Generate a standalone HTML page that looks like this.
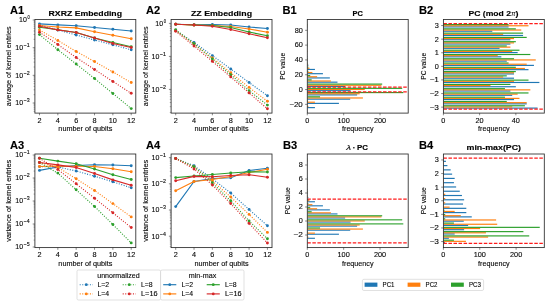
<!DOCTYPE html>
<html><head><meta charset="utf-8"><style>
html,body{margin:0;padding:0;background:#fff;}
svg{display:block;font-family:"Liberation Sans", sans-serif;filter:blur(0.3px);}
text{stroke:#222;stroke-width:0.12px;}
text[font-weight=bold]{stroke:#111;stroke-width:0.15px;}
</style></head><body>
<svg width="550" height="305" viewBox="0 0 550 305">
<rect width="550" height="305" fill="#fff"/>
<clipPath id="cA1"><rect x="34.9" y="19.5" width="100.9" height="93.6"/></clipPath>
<g clip-path="url(#cA1)">
<polyline points="39.49,25 57.83,30 76.18,35 94.52,40 112.87,44.8 131.21,49.8" fill="none" stroke="#1f77b4" stroke-width="1.15" stroke-dasharray="1.0 1.55" stroke-linejoin="round"/>
<circle cx="39.49" cy="25" r="1.45" fill="#1f77b4"/>
<circle cx="57.83" cy="30" r="1.45" fill="#1f77b4"/>
<circle cx="76.18" cy="35" r="1.45" fill="#1f77b4"/>
<circle cx="94.52" cy="40" r="1.45" fill="#1f77b4"/>
<circle cx="112.87" cy="44.8" r="1.45" fill="#1f77b4"/>
<circle cx="131.21" cy="49.8" r="1.45" fill="#1f77b4"/>
<polyline points="39.49,23.9 57.83,24.9 76.18,25.7 94.52,27.5 112.87,29.2 131.21,31" fill="none" stroke="#1f77b4" stroke-width="1.15" stroke-linejoin="round"/>
<circle cx="39.49" cy="23.9" r="1.45" fill="#1f77b4"/>
<circle cx="57.83" cy="24.9" r="1.45" fill="#1f77b4"/>
<circle cx="76.18" cy="25.7" r="1.45" fill="#1f77b4"/>
<circle cx="94.52" cy="27.5" r="1.45" fill="#1f77b4"/>
<circle cx="112.87" cy="29.2" r="1.45" fill="#1f77b4"/>
<circle cx="131.21" cy="31" r="1.45" fill="#1f77b4"/>
<polyline points="39.49,30 57.83,40.5 76.18,51.5 94.52,61.5 112.87,72 131.21,82.5" fill="none" stroke="#ff7f0e" stroke-width="1.15" stroke-dasharray="1.0 1.55" stroke-linejoin="round"/>
<circle cx="39.49" cy="30" r="1.45" fill="#ff7f0e"/>
<circle cx="57.83" cy="40.5" r="1.45" fill="#ff7f0e"/>
<circle cx="76.18" cy="51.5" r="1.45" fill="#ff7f0e"/>
<circle cx="94.52" cy="61.5" r="1.45" fill="#ff7f0e"/>
<circle cx="112.87" cy="72" r="1.45" fill="#ff7f0e"/>
<circle cx="131.21" cy="82.5" r="1.45" fill="#ff7f0e"/>
<polyline points="39.49,25.5 57.83,27 76.18,27.9 94.52,31.8 112.87,35.3 131.21,38.7" fill="none" stroke="#ff7f0e" stroke-width="1.15" stroke-linejoin="round"/>
<circle cx="39.49" cy="25.5" r="1.45" fill="#ff7f0e"/>
<circle cx="57.83" cy="27" r="1.45" fill="#ff7f0e"/>
<circle cx="76.18" cy="27.9" r="1.45" fill="#ff7f0e"/>
<circle cx="94.52" cy="31.8" r="1.45" fill="#ff7f0e"/>
<circle cx="112.87" cy="35.3" r="1.45" fill="#ff7f0e"/>
<circle cx="131.21" cy="38.7" r="1.45" fill="#ff7f0e"/>
<polyline points="39.49,34.6 57.83,49.7 76.18,64 94.52,78.5 112.87,93.5 131.21,108.6" fill="none" stroke="#2ca02c" stroke-width="1.15" stroke-dasharray="1.0 1.55" stroke-linejoin="round"/>
<circle cx="39.49" cy="34.6" r="1.45" fill="#2ca02c"/>
<circle cx="57.83" cy="49.7" r="1.45" fill="#2ca02c"/>
<circle cx="76.18" cy="64" r="1.45" fill="#2ca02c"/>
<circle cx="94.52" cy="78.5" r="1.45" fill="#2ca02c"/>
<circle cx="112.87" cy="93.5" r="1.45" fill="#2ca02c"/>
<circle cx="131.21" cy="108.6" r="1.45" fill="#2ca02c"/>
<polyline points="39.49,27.2 57.83,29.8 76.18,32.5 94.52,38 112.87,42.5 131.21,46.8" fill="none" stroke="#2ca02c" stroke-width="1.15" stroke-linejoin="round"/>
<circle cx="39.49" cy="27.2" r="1.45" fill="#2ca02c"/>
<circle cx="57.83" cy="29.8" r="1.45" fill="#2ca02c"/>
<circle cx="76.18" cy="32.5" r="1.45" fill="#2ca02c"/>
<circle cx="94.52" cy="38" r="1.45" fill="#2ca02c"/>
<circle cx="112.87" cy="42.5" r="1.45" fill="#2ca02c"/>
<circle cx="131.21" cy="46.8" r="1.45" fill="#2ca02c"/>
<polyline points="39.49,32.2 57.83,44.5 76.18,57.5 94.52,69.5 112.87,81.5 131.21,93.3" fill="none" stroke="#d62728" stroke-width="1.15" stroke-dasharray="1.0 1.55" stroke-linejoin="round"/>
<circle cx="39.49" cy="32.2" r="1.45" fill="#d62728"/>
<circle cx="57.83" cy="44.5" r="1.45" fill="#d62728"/>
<circle cx="76.18" cy="57.5" r="1.45" fill="#d62728"/>
<circle cx="94.52" cy="69.5" r="1.45" fill="#d62728"/>
<circle cx="112.87" cy="81.5" r="1.45" fill="#d62728"/>
<circle cx="131.21" cy="93.3" r="1.45" fill="#d62728"/>
<polyline points="39.49,26.2 57.83,29.9 76.18,32.5 94.52,38 112.87,43.5 131.21,47.5" fill="none" stroke="#d62728" stroke-width="1.15" stroke-linejoin="round"/>
<circle cx="39.49" cy="26.2" r="1.45" fill="#d62728"/>
<circle cx="57.83" cy="29.9" r="1.45" fill="#d62728"/>
<circle cx="76.18" cy="32.5" r="1.45" fill="#d62728"/>
<circle cx="94.52" cy="38" r="1.45" fill="#d62728"/>
<circle cx="112.87" cy="43.5" r="1.45" fill="#d62728"/>
<circle cx="131.21" cy="47.5" r="1.45" fill="#d62728"/>
</g>
<rect x="34.9" y="19.5" width="100.9" height="93.6" fill="none" stroke="#2a2a2a" stroke-width="0.85"/>
<line x1="39.49" y1="113.1" x2="39.49" y2="115.3" stroke="#2a2a2a" stroke-width="0.55" />
<text x="39.49" y="122.8" font-size="6.9" text-anchor="middle" textLength="4.07" lengthAdjust="spacingAndGlyphs">2</text>
<line x1="57.83" y1="113.1" x2="57.83" y2="115.3" stroke="#2a2a2a" stroke-width="0.55" />
<text x="57.83" y="122.8" font-size="6.9" text-anchor="middle" textLength="4.07" lengthAdjust="spacingAndGlyphs">4</text>
<line x1="76.18" y1="113.1" x2="76.18" y2="115.3" stroke="#2a2a2a" stroke-width="0.55" />
<text x="76.18" y="122.8" font-size="6.9" text-anchor="middle" textLength="4.07" lengthAdjust="spacingAndGlyphs">6</text>
<line x1="94.52" y1="113.1" x2="94.52" y2="115.3" stroke="#2a2a2a" stroke-width="0.55" />
<text x="94.52" y="122.8" font-size="6.9" text-anchor="middle" textLength="4.07" lengthAdjust="spacingAndGlyphs">8</text>
<line x1="112.87" y1="113.1" x2="112.87" y2="115.3" stroke="#2a2a2a" stroke-width="0.55" />
<text x="112.87" y="122.8" font-size="6.9" text-anchor="middle" textLength="8.14" lengthAdjust="spacingAndGlyphs">10</text>
<line x1="131.21" y1="113.1" x2="131.21" y2="115.3" stroke="#2a2a2a" stroke-width="0.55" />
<text x="131.21" y="122.8" font-size="6.9" text-anchor="middle" textLength="8.14" lengthAdjust="spacingAndGlyphs">12</text>
<line x1="33.6" y1="111.34" x2="34.9" y2="111.34" stroke="#2a2a2a" stroke-width="0.4" />
<line x1="33.6" y1="109.15" x2="34.9" y2="109.15" stroke="#2a2a2a" stroke-width="0.4" />
<line x1="33.6" y1="107.3" x2="34.9" y2="107.3" stroke="#2a2a2a" stroke-width="0.4" />
<line x1="33.6" y1="105.69" x2="34.9" y2="105.69" stroke="#2a2a2a" stroke-width="0.4" />
<line x1="33.6" y1="104.28" x2="34.9" y2="104.28" stroke="#2a2a2a" stroke-width="0.4" />
<line x1="33.6" y1="94.68" x2="34.9" y2="94.68" stroke="#2a2a2a" stroke-width="0.4" />
<line x1="33.6" y1="89.81" x2="34.9" y2="89.81" stroke="#2a2a2a" stroke-width="0.4" />
<line x1="33.6" y1="86.35" x2="34.9" y2="86.35" stroke="#2a2a2a" stroke-width="0.4" />
<line x1="33.6" y1="83.67" x2="34.9" y2="83.67" stroke="#2a2a2a" stroke-width="0.4" />
<line x1="33.6" y1="81.48" x2="34.9" y2="81.48" stroke="#2a2a2a" stroke-width="0.4" />
<line x1="33.6" y1="79.63" x2="34.9" y2="79.63" stroke="#2a2a2a" stroke-width="0.4" />
<line x1="33.6" y1="78.02" x2="34.9" y2="78.02" stroke="#2a2a2a" stroke-width="0.4" />
<line x1="33.6" y1="76.61" x2="34.9" y2="76.61" stroke="#2a2a2a" stroke-width="0.4" />
<line x1="33.6" y1="67.01" x2="34.9" y2="67.01" stroke="#2a2a2a" stroke-width="0.4" />
<line x1="33.6" y1="62.14" x2="34.9" y2="62.14" stroke="#2a2a2a" stroke-width="0.4" />
<line x1="33.6" y1="58.68" x2="34.9" y2="58.68" stroke="#2a2a2a" stroke-width="0.4" />
<line x1="33.6" y1="56" x2="34.9" y2="56" stroke="#2a2a2a" stroke-width="0.4" />
<line x1="33.6" y1="53.81" x2="34.9" y2="53.81" stroke="#2a2a2a" stroke-width="0.4" />
<line x1="33.6" y1="51.96" x2="34.9" y2="51.96" stroke="#2a2a2a" stroke-width="0.4" />
<line x1="33.6" y1="50.35" x2="34.9" y2="50.35" stroke="#2a2a2a" stroke-width="0.4" />
<line x1="33.6" y1="48.94" x2="34.9" y2="48.94" stroke="#2a2a2a" stroke-width="0.4" />
<line x1="33.6" y1="39.34" x2="34.9" y2="39.34" stroke="#2a2a2a" stroke-width="0.4" />
<line x1="33.6" y1="34.47" x2="34.9" y2="34.47" stroke="#2a2a2a" stroke-width="0.4" />
<line x1="33.6" y1="31.01" x2="34.9" y2="31.01" stroke="#2a2a2a" stroke-width="0.4" />
<line x1="33.6" y1="28.33" x2="34.9" y2="28.33" stroke="#2a2a2a" stroke-width="0.4" />
<line x1="33.6" y1="26.14" x2="34.9" y2="26.14" stroke="#2a2a2a" stroke-width="0.4" />
<line x1="33.6" y1="24.29" x2="34.9" y2="24.29" stroke="#2a2a2a" stroke-width="0.4" />
<line x1="33.6" y1="22.68" x2="34.9" y2="22.68" stroke="#2a2a2a" stroke-width="0.4" />
<line x1="33.6" y1="21.27" x2="34.9" y2="21.27" stroke="#2a2a2a" stroke-width="0.4" />
<line x1="32.7" y1="20" x2="34.9" y2="20" stroke="#2a2a2a" stroke-width="0.55" />
<text x="26.85" y="22.35" font-size="6.9" text-anchor="end" textLength="7.8" lengthAdjust="spacingAndGlyphs">10</text>
<text x="29.7" y="19.4" font-size="4.5" text-anchor="end" textLength="2.25" lengthAdjust="spacingAndGlyphs">0</text>
<line x1="32.7" y1="47.67" x2="34.9" y2="47.67" stroke="#2a2a2a" stroke-width="0.55" />
<text x="23.1" y="50.02" font-size="6.9" text-anchor="end" textLength="7.8" lengthAdjust="spacingAndGlyphs">10</text>
<text x="29.7" y="47.07" font-size="4.5" text-anchor="end" textLength="6" lengthAdjust="spacingAndGlyphs">&#8722;1</text>
<line x1="32.7" y1="75.34" x2="34.9" y2="75.34" stroke="#2a2a2a" stroke-width="0.55" />
<text x="23.1" y="77.69" font-size="6.9" text-anchor="end" textLength="7.8" lengthAdjust="spacingAndGlyphs">10</text>
<text x="29.7" y="74.74" font-size="4.5" text-anchor="end" textLength="6" lengthAdjust="spacingAndGlyphs">&#8722;2</text>
<line x1="32.7" y1="103.01" x2="34.9" y2="103.01" stroke="#2a2a2a" stroke-width="0.55" />
<text x="23.1" y="105.36" font-size="6.9" text-anchor="end" textLength="7.8" lengthAdjust="spacingAndGlyphs">10</text>
<text x="29.7" y="102.41" font-size="4.5" text-anchor="end" textLength="6" lengthAdjust="spacingAndGlyphs">&#8722;3</text>
<text x="85.35" y="131" font-size="6.9" text-anchor="middle" textLength="54" lengthAdjust="spacingAndGlyphs">number of qubits</text>
<clipPath id="cA2"><rect x="171.1" y="19.5" width="100.9" height="93.6"/></clipPath>
<g clip-path="url(#cA2)">
<polyline points="175.69,30.5 194.03,42.5 212.38,55.6 230.72,69 249.07,82.5 267.41,95.8" fill="none" stroke="#1f77b4" stroke-width="1.15" stroke-dasharray="1.0 1.55" stroke-linejoin="round"/>
<circle cx="175.69" cy="30.5" r="1.45" fill="#1f77b4"/>
<circle cx="194.03" cy="42.5" r="1.45" fill="#1f77b4"/>
<circle cx="212.38" cy="55.6" r="1.45" fill="#1f77b4"/>
<circle cx="230.72" cy="69" r="1.45" fill="#1f77b4"/>
<circle cx="249.07" cy="82.5" r="1.45" fill="#1f77b4"/>
<circle cx="267.41" cy="95.8" r="1.45" fill="#1f77b4"/>
<polyline points="175.69,24.3 194.03,24.8 212.38,24.5 230.72,25 249.07,27 267.41,28.5" fill="none" stroke="#1f77b4" stroke-width="1.15" stroke-linejoin="round"/>
<circle cx="175.69" cy="24.3" r="1.45" fill="#1f77b4"/>
<circle cx="194.03" cy="24.8" r="1.45" fill="#1f77b4"/>
<circle cx="212.38" cy="24.5" r="1.45" fill="#1f77b4"/>
<circle cx="230.72" cy="25" r="1.45" fill="#1f77b4"/>
<circle cx="249.07" cy="27" r="1.45" fill="#1f77b4"/>
<circle cx="267.41" cy="28.5" r="1.45" fill="#1f77b4"/>
<polyline points="175.69,30.5 194.03,44 212.38,58 230.72,72.7 249.07,87.4 267.41,101.3" fill="none" stroke="#ff7f0e" stroke-width="1.15" stroke-dasharray="1.0 1.55" stroke-linejoin="round"/>
<circle cx="175.69" cy="30.5" r="1.45" fill="#ff7f0e"/>
<circle cx="194.03" cy="44" r="1.45" fill="#ff7f0e"/>
<circle cx="212.38" cy="58" r="1.45" fill="#ff7f0e"/>
<circle cx="230.72" cy="72.7" r="1.45" fill="#ff7f0e"/>
<circle cx="249.07" cy="87.4" r="1.45" fill="#ff7f0e"/>
<circle cx="267.41" cy="101.3" r="1.45" fill="#ff7f0e"/>
<polyline points="175.69,24.3 194.03,25 212.38,25.5 230.72,26.5 249.07,29 267.41,32.2" fill="none" stroke="#ff7f0e" stroke-width="1.15" stroke-linejoin="round"/>
<circle cx="175.69" cy="24.3" r="1.45" fill="#ff7f0e"/>
<circle cx="194.03" cy="25" r="1.45" fill="#ff7f0e"/>
<circle cx="212.38" cy="25.5" r="1.45" fill="#ff7f0e"/>
<circle cx="230.72" cy="26.5" r="1.45" fill="#ff7f0e"/>
<circle cx="249.07" cy="29" r="1.45" fill="#ff7f0e"/>
<circle cx="267.41" cy="32.2" r="1.45" fill="#ff7f0e"/>
<polyline points="175.69,29.8 194.03,43.8 212.38,59 230.72,74.7 249.07,90.6 267.41,105.1" fill="none" stroke="#2ca02c" stroke-width="1.15" stroke-dasharray="1.0 1.55" stroke-linejoin="round"/>
<circle cx="175.69" cy="29.8" r="1.45" fill="#2ca02c"/>
<circle cx="194.03" cy="43.8" r="1.45" fill="#2ca02c"/>
<circle cx="212.38" cy="59" r="1.45" fill="#2ca02c"/>
<circle cx="230.72" cy="74.7" r="1.45" fill="#2ca02c"/>
<circle cx="249.07" cy="90.6" r="1.45" fill="#2ca02c"/>
<circle cx="267.41" cy="105.1" r="1.45" fill="#2ca02c"/>
<polyline points="175.69,24.3 194.03,25 212.38,25.5 230.72,27.5 249.07,32 267.41,35.8" fill="none" stroke="#2ca02c" stroke-width="1.15" stroke-linejoin="round"/>
<circle cx="175.69" cy="24.3" r="1.45" fill="#2ca02c"/>
<circle cx="194.03" cy="25" r="1.45" fill="#2ca02c"/>
<circle cx="212.38" cy="25.5" r="1.45" fill="#2ca02c"/>
<circle cx="230.72" cy="27.5" r="1.45" fill="#2ca02c"/>
<circle cx="249.07" cy="32" r="1.45" fill="#2ca02c"/>
<circle cx="267.41" cy="35.8" r="1.45" fill="#2ca02c"/>
<polyline points="175.69,31.3 194.03,46 212.38,61.4 230.72,76.9 249.07,92.9 267.41,108.8" fill="none" stroke="#d62728" stroke-width="1.15" stroke-dasharray="1.0 1.55" stroke-linejoin="round"/>
<circle cx="175.69" cy="31.3" r="1.45" fill="#d62728"/>
<circle cx="194.03" cy="46" r="1.45" fill="#d62728"/>
<circle cx="212.38" cy="61.4" r="1.45" fill="#d62728"/>
<circle cx="230.72" cy="76.9" r="1.45" fill="#d62728"/>
<circle cx="249.07" cy="92.9" r="1.45" fill="#d62728"/>
<circle cx="267.41" cy="108.8" r="1.45" fill="#d62728"/>
<polyline points="175.69,24.3 194.03,25 212.38,26.2 230.72,29.5 249.07,33.8 267.41,37.7" fill="none" stroke="#d62728" stroke-width="1.15" stroke-linejoin="round"/>
<circle cx="175.69" cy="24.3" r="1.45" fill="#d62728"/>
<circle cx="194.03" cy="25" r="1.45" fill="#d62728"/>
<circle cx="212.38" cy="26.2" r="1.45" fill="#d62728"/>
<circle cx="230.72" cy="29.5" r="1.45" fill="#d62728"/>
<circle cx="249.07" cy="33.8" r="1.45" fill="#d62728"/>
<circle cx="267.41" cy="37.7" r="1.45" fill="#d62728"/>
</g>
<rect x="171.1" y="19.5" width="100.9" height="93.6" fill="none" stroke="#2a2a2a" stroke-width="0.85"/>
<line x1="175.69" y1="113.1" x2="175.69" y2="115.3" stroke="#2a2a2a" stroke-width="0.55" />
<text x="175.69" y="122.8" font-size="6.9" text-anchor="middle" textLength="4.07" lengthAdjust="spacingAndGlyphs">2</text>
<line x1="194.03" y1="113.1" x2="194.03" y2="115.3" stroke="#2a2a2a" stroke-width="0.55" />
<text x="194.03" y="122.8" font-size="6.9" text-anchor="middle" textLength="4.07" lengthAdjust="spacingAndGlyphs">4</text>
<line x1="212.38" y1="113.1" x2="212.38" y2="115.3" stroke="#2a2a2a" stroke-width="0.55" />
<text x="212.38" y="122.8" font-size="6.9" text-anchor="middle" textLength="4.07" lengthAdjust="spacingAndGlyphs">6</text>
<line x1="230.72" y1="113.1" x2="230.72" y2="115.3" stroke="#2a2a2a" stroke-width="0.55" />
<text x="230.72" y="122.8" font-size="6.9" text-anchor="middle" textLength="4.07" lengthAdjust="spacingAndGlyphs">8</text>
<line x1="249.07" y1="113.1" x2="249.07" y2="115.3" stroke="#2a2a2a" stroke-width="0.55" />
<text x="249.07" y="122.8" font-size="6.9" text-anchor="middle" textLength="8.14" lengthAdjust="spacingAndGlyphs">10</text>
<line x1="267.41" y1="113.1" x2="267.41" y2="115.3" stroke="#2a2a2a" stroke-width="0.55" />
<text x="267.41" y="122.8" font-size="6.9" text-anchor="middle" textLength="8.14" lengthAdjust="spacingAndGlyphs">12</text>
<line x1="169.8" y1="112.47" x2="171.1" y2="112.47" stroke="#2a2a2a" stroke-width="0.4" />
<line x1="169.8" y1="106.65" x2="171.1" y2="106.65" stroke="#2a2a2a" stroke-width="0.4" />
<line x1="169.8" y1="102.53" x2="171.1" y2="102.53" stroke="#2a2a2a" stroke-width="0.4" />
<line x1="169.8" y1="99.33" x2="171.1" y2="99.33" stroke="#2a2a2a" stroke-width="0.4" />
<line x1="169.8" y1="96.72" x2="171.1" y2="96.72" stroke="#2a2a2a" stroke-width="0.4" />
<line x1="169.8" y1="94.51" x2="171.1" y2="94.51" stroke="#2a2a2a" stroke-width="0.4" />
<line x1="169.8" y1="92.6" x2="171.1" y2="92.6" stroke="#2a2a2a" stroke-width="0.4" />
<line x1="169.8" y1="90.91" x2="171.1" y2="90.91" stroke="#2a2a2a" stroke-width="0.4" />
<line x1="169.8" y1="79.47" x2="171.1" y2="79.47" stroke="#2a2a2a" stroke-width="0.4" />
<line x1="169.8" y1="73.65" x2="171.1" y2="73.65" stroke="#2a2a2a" stroke-width="0.4" />
<line x1="169.8" y1="69.53" x2="171.1" y2="69.53" stroke="#2a2a2a" stroke-width="0.4" />
<line x1="169.8" y1="66.33" x2="171.1" y2="66.33" stroke="#2a2a2a" stroke-width="0.4" />
<line x1="169.8" y1="63.72" x2="171.1" y2="63.72" stroke="#2a2a2a" stroke-width="0.4" />
<line x1="169.8" y1="61.51" x2="171.1" y2="61.51" stroke="#2a2a2a" stroke-width="0.4" />
<line x1="169.8" y1="59.6" x2="171.1" y2="59.6" stroke="#2a2a2a" stroke-width="0.4" />
<line x1="169.8" y1="57.91" x2="171.1" y2="57.91" stroke="#2a2a2a" stroke-width="0.4" />
<line x1="169.8" y1="46.47" x2="171.1" y2="46.47" stroke="#2a2a2a" stroke-width="0.4" />
<line x1="169.8" y1="40.65" x2="171.1" y2="40.65" stroke="#2a2a2a" stroke-width="0.4" />
<line x1="169.8" y1="36.53" x2="171.1" y2="36.53" stroke="#2a2a2a" stroke-width="0.4" />
<line x1="169.8" y1="33.33" x2="171.1" y2="33.33" stroke="#2a2a2a" stroke-width="0.4" />
<line x1="169.8" y1="30.72" x2="171.1" y2="30.72" stroke="#2a2a2a" stroke-width="0.4" />
<line x1="169.8" y1="28.51" x2="171.1" y2="28.51" stroke="#2a2a2a" stroke-width="0.4" />
<line x1="169.8" y1="26.6" x2="171.1" y2="26.6" stroke="#2a2a2a" stroke-width="0.4" />
<line x1="169.8" y1="24.91" x2="171.1" y2="24.91" stroke="#2a2a2a" stroke-width="0.4" />
<line x1="168.9" y1="23.4" x2="171.1" y2="23.4" stroke="#2a2a2a" stroke-width="0.55" />
<text x="163.05" y="25.75" font-size="6.9" text-anchor="end" textLength="7.8" lengthAdjust="spacingAndGlyphs">10</text>
<text x="165.9" y="22.8" font-size="4.5" text-anchor="end" textLength="2.25" lengthAdjust="spacingAndGlyphs">0</text>
<line x1="168.9" y1="56.4" x2="171.1" y2="56.4" stroke="#2a2a2a" stroke-width="0.55" />
<text x="159.3" y="58.75" font-size="6.9" text-anchor="end" textLength="7.8" lengthAdjust="spacingAndGlyphs">10</text>
<text x="165.9" y="55.8" font-size="4.5" text-anchor="end" textLength="6" lengthAdjust="spacingAndGlyphs">&#8722;1</text>
<line x1="168.9" y1="89.4" x2="171.1" y2="89.4" stroke="#2a2a2a" stroke-width="0.55" />
<text x="159.3" y="91.75" font-size="6.9" text-anchor="end" textLength="7.8" lengthAdjust="spacingAndGlyphs">10</text>
<text x="165.9" y="88.8" font-size="4.5" text-anchor="end" textLength="6" lengthAdjust="spacingAndGlyphs">&#8722;2</text>
<text x="221.55" y="131" font-size="6.9" text-anchor="middle" textLength="54" lengthAdjust="spacingAndGlyphs">number of qubits</text>
<clipPath id="cA3"><rect x="34.9" y="154" width="100.9" height="93.6"/></clipPath>
<g clip-path="url(#cA3)">
<polyline points="39.49,166.6 57.83,167 76.18,171 94.52,176.2 112.87,181.8 131.21,187.8" fill="none" stroke="#1f77b4" stroke-width="1.15" stroke-dasharray="1.0 1.55" stroke-linejoin="round"/>
<circle cx="39.49" cy="166.6" r="1.45" fill="#1f77b4"/>
<circle cx="57.83" cy="167" r="1.45" fill="#1f77b4"/>
<circle cx="76.18" cy="171" r="1.45" fill="#1f77b4"/>
<circle cx="94.52" cy="176.2" r="1.45" fill="#1f77b4"/>
<circle cx="112.87" cy="181.8" r="1.45" fill="#1f77b4"/>
<circle cx="131.21" cy="187.8" r="1.45" fill="#1f77b4"/>
<polyline points="39.49,170.4 57.83,167 76.18,165.5 94.52,164.8 112.87,165 131.21,165.8" fill="none" stroke="#1f77b4" stroke-width="1.15" stroke-linejoin="round"/>
<circle cx="39.49" cy="170.4" r="1.45" fill="#1f77b4"/>
<circle cx="57.83" cy="167" r="1.45" fill="#1f77b4"/>
<circle cx="76.18" cy="165.5" r="1.45" fill="#1f77b4"/>
<circle cx="94.52" cy="164.8" r="1.45" fill="#1f77b4"/>
<circle cx="112.87" cy="165" r="1.45" fill="#1f77b4"/>
<circle cx="131.21" cy="165.8" r="1.45" fill="#1f77b4"/>
<polyline points="39.49,162.5 57.83,167.3 76.18,178.8 94.52,190.5 112.87,203.6 131.21,216.9" fill="none" stroke="#ff7f0e" stroke-width="1.15" stroke-dasharray="1.0 1.55" stroke-linejoin="round"/>
<circle cx="39.49" cy="162.5" r="1.45" fill="#ff7f0e"/>
<circle cx="57.83" cy="167.3" r="1.45" fill="#ff7f0e"/>
<circle cx="76.18" cy="178.8" r="1.45" fill="#ff7f0e"/>
<circle cx="94.52" cy="190.5" r="1.45" fill="#ff7f0e"/>
<circle cx="112.87" cy="203.6" r="1.45" fill="#ff7f0e"/>
<circle cx="131.21" cy="216.9" r="1.45" fill="#ff7f0e"/>
<polyline points="39.49,166.5 57.83,166 76.18,166.2 94.52,166.5 112.87,168.8 131.21,171.8" fill="none" stroke="#ff7f0e" stroke-width="1.15" stroke-linejoin="round"/>
<circle cx="39.49" cy="166.5" r="1.45" fill="#ff7f0e"/>
<circle cx="57.83" cy="166" r="1.45" fill="#ff7f0e"/>
<circle cx="76.18" cy="166.2" r="1.45" fill="#ff7f0e"/>
<circle cx="94.52" cy="166.5" r="1.45" fill="#ff7f0e"/>
<circle cx="112.87" cy="168.8" r="1.45" fill="#ff7f0e"/>
<circle cx="131.21" cy="171.8" r="1.45" fill="#ff7f0e"/>
<polyline points="39.49,162.5 57.83,173.1 76.18,189.8 94.52,206.5 112.87,224.5 131.21,242.9" fill="none" stroke="#2ca02c" stroke-width="1.15" stroke-dasharray="1.0 1.55" stroke-linejoin="round"/>
<circle cx="39.49" cy="162.5" r="1.45" fill="#2ca02c"/>
<circle cx="57.83" cy="173.1" r="1.45" fill="#2ca02c"/>
<circle cx="76.18" cy="189.8" r="1.45" fill="#2ca02c"/>
<circle cx="94.52" cy="206.5" r="1.45" fill="#2ca02c"/>
<circle cx="112.87" cy="224.5" r="1.45" fill="#2ca02c"/>
<circle cx="131.21" cy="242.9" r="1.45" fill="#2ca02c"/>
<polyline points="39.49,158.3 57.83,161.1 76.18,163.8 94.52,169 112.87,174.8 131.21,179.5" fill="none" stroke="#2ca02c" stroke-width="1.15" stroke-linejoin="round"/>
<circle cx="39.49" cy="158.3" r="1.45" fill="#2ca02c"/>
<circle cx="57.83" cy="161.1" r="1.45" fill="#2ca02c"/>
<circle cx="76.18" cy="163.8" r="1.45" fill="#2ca02c"/>
<circle cx="94.52" cy="169" r="1.45" fill="#2ca02c"/>
<circle cx="112.87" cy="174.8" r="1.45" fill="#2ca02c"/>
<circle cx="131.21" cy="179.5" r="1.45" fill="#2ca02c"/>
<polyline points="39.49,158.3 57.83,169.5 76.18,183.8 94.52,198.2 112.87,212.8 131.21,227.5" fill="none" stroke="#d62728" stroke-width="1.15" stroke-dasharray="1.0 1.55" stroke-linejoin="round"/>
<circle cx="39.49" cy="158.3" r="1.45" fill="#d62728"/>
<circle cx="57.83" cy="169.5" r="1.45" fill="#d62728"/>
<circle cx="76.18" cy="183.8" r="1.45" fill="#d62728"/>
<circle cx="94.52" cy="198.2" r="1.45" fill="#d62728"/>
<circle cx="112.87" cy="212.8" r="1.45" fill="#d62728"/>
<circle cx="131.21" cy="227.5" r="1.45" fill="#d62728"/>
<polyline points="39.49,162.5 57.83,164.9 76.18,167.5 94.52,173.5 112.87,179.9 131.21,185.3" fill="none" stroke="#d62728" stroke-width="1.15" stroke-linejoin="round"/>
<circle cx="39.49" cy="162.5" r="1.45" fill="#d62728"/>
<circle cx="57.83" cy="164.9" r="1.45" fill="#d62728"/>
<circle cx="76.18" cy="167.5" r="1.45" fill="#d62728"/>
<circle cx="94.52" cy="173.5" r="1.45" fill="#d62728"/>
<circle cx="112.87" cy="179.9" r="1.45" fill="#d62728"/>
<circle cx="131.21" cy="185.3" r="1.45" fill="#d62728"/>
</g>
<rect x="34.9" y="154" width="100.9" height="93.6" fill="none" stroke="#2a2a2a" stroke-width="0.85"/>
<line x1="39.49" y1="247.6" x2="39.49" y2="249.8" stroke="#2a2a2a" stroke-width="0.55" />
<text x="39.49" y="257.3" font-size="6.9" text-anchor="middle" textLength="4.07" lengthAdjust="spacingAndGlyphs">2</text>
<line x1="57.83" y1="247.6" x2="57.83" y2="249.8" stroke="#2a2a2a" stroke-width="0.55" />
<text x="57.83" y="257.3" font-size="6.9" text-anchor="middle" textLength="4.07" lengthAdjust="spacingAndGlyphs">4</text>
<line x1="76.18" y1="247.6" x2="76.18" y2="249.8" stroke="#2a2a2a" stroke-width="0.55" />
<text x="76.18" y="257.3" font-size="6.9" text-anchor="middle" textLength="4.07" lengthAdjust="spacingAndGlyphs">6</text>
<line x1="94.52" y1="247.6" x2="94.52" y2="249.8" stroke="#2a2a2a" stroke-width="0.55" />
<text x="94.52" y="257.3" font-size="6.9" text-anchor="middle" textLength="4.07" lengthAdjust="spacingAndGlyphs">8</text>
<line x1="112.87" y1="247.6" x2="112.87" y2="249.8" stroke="#2a2a2a" stroke-width="0.55" />
<text x="112.87" y="257.3" font-size="6.9" text-anchor="middle" textLength="8.14" lengthAdjust="spacingAndGlyphs">10</text>
<line x1="131.21" y1="247.6" x2="131.21" y2="249.8" stroke="#2a2a2a" stroke-width="0.55" />
<text x="131.21" y="257.3" font-size="6.9" text-anchor="middle" textLength="8.14" lengthAdjust="spacingAndGlyphs">12</text>
<line x1="33.6" y1="240.08" x2="34.9" y2="240.08" stroke="#2a2a2a" stroke-width="0.4" />
<line x1="33.6" y1="236.03" x2="34.9" y2="236.03" stroke="#2a2a2a" stroke-width="0.4" />
<line x1="33.6" y1="233.15" x2="34.9" y2="233.15" stroke="#2a2a2a" stroke-width="0.4" />
<line x1="33.6" y1="230.92" x2="34.9" y2="230.92" stroke="#2a2a2a" stroke-width="0.4" />
<line x1="33.6" y1="229.1" x2="34.9" y2="229.1" stroke="#2a2a2a" stroke-width="0.4" />
<line x1="33.6" y1="227.56" x2="34.9" y2="227.56" stroke="#2a2a2a" stroke-width="0.4" />
<line x1="33.6" y1="226.23" x2="34.9" y2="226.23" stroke="#2a2a2a" stroke-width="0.4" />
<line x1="33.6" y1="225.05" x2="34.9" y2="225.05" stroke="#2a2a2a" stroke-width="0.4" />
<line x1="33.6" y1="217.08" x2="34.9" y2="217.08" stroke="#2a2a2a" stroke-width="0.4" />
<line x1="33.6" y1="213.03" x2="34.9" y2="213.03" stroke="#2a2a2a" stroke-width="0.4" />
<line x1="33.6" y1="210.15" x2="34.9" y2="210.15" stroke="#2a2a2a" stroke-width="0.4" />
<line x1="33.6" y1="207.92" x2="34.9" y2="207.92" stroke="#2a2a2a" stroke-width="0.4" />
<line x1="33.6" y1="206.1" x2="34.9" y2="206.1" stroke="#2a2a2a" stroke-width="0.4" />
<line x1="33.6" y1="204.56" x2="34.9" y2="204.56" stroke="#2a2a2a" stroke-width="0.4" />
<line x1="33.6" y1="203.23" x2="34.9" y2="203.23" stroke="#2a2a2a" stroke-width="0.4" />
<line x1="33.6" y1="202.05" x2="34.9" y2="202.05" stroke="#2a2a2a" stroke-width="0.4" />
<line x1="33.6" y1="194.08" x2="34.9" y2="194.08" stroke="#2a2a2a" stroke-width="0.4" />
<line x1="33.6" y1="190.03" x2="34.9" y2="190.03" stroke="#2a2a2a" stroke-width="0.4" />
<line x1="33.6" y1="187.15" x2="34.9" y2="187.15" stroke="#2a2a2a" stroke-width="0.4" />
<line x1="33.6" y1="184.92" x2="34.9" y2="184.92" stroke="#2a2a2a" stroke-width="0.4" />
<line x1="33.6" y1="183.1" x2="34.9" y2="183.1" stroke="#2a2a2a" stroke-width="0.4" />
<line x1="33.6" y1="181.56" x2="34.9" y2="181.56" stroke="#2a2a2a" stroke-width="0.4" />
<line x1="33.6" y1="180.23" x2="34.9" y2="180.23" stroke="#2a2a2a" stroke-width="0.4" />
<line x1="33.6" y1="179.05" x2="34.9" y2="179.05" stroke="#2a2a2a" stroke-width="0.4" />
<line x1="33.6" y1="171.08" x2="34.9" y2="171.08" stroke="#2a2a2a" stroke-width="0.4" />
<line x1="33.6" y1="167.03" x2="34.9" y2="167.03" stroke="#2a2a2a" stroke-width="0.4" />
<line x1="33.6" y1="164.15" x2="34.9" y2="164.15" stroke="#2a2a2a" stroke-width="0.4" />
<line x1="33.6" y1="161.92" x2="34.9" y2="161.92" stroke="#2a2a2a" stroke-width="0.4" />
<line x1="33.6" y1="160.1" x2="34.9" y2="160.1" stroke="#2a2a2a" stroke-width="0.4" />
<line x1="33.6" y1="158.56" x2="34.9" y2="158.56" stroke="#2a2a2a" stroke-width="0.4" />
<line x1="33.6" y1="157.23" x2="34.9" y2="157.23" stroke="#2a2a2a" stroke-width="0.4" />
<line x1="33.6" y1="156.05" x2="34.9" y2="156.05" stroke="#2a2a2a" stroke-width="0.4" />
<line x1="32.7" y1="155" x2="34.9" y2="155" stroke="#2a2a2a" stroke-width="0.55" />
<text x="23.1" y="157.35" font-size="6.9" text-anchor="end" textLength="7.8" lengthAdjust="spacingAndGlyphs">10</text>
<text x="29.7" y="154.4" font-size="4.5" text-anchor="end" textLength="6" lengthAdjust="spacingAndGlyphs">&#8722;1</text>
<line x1="32.7" y1="178" x2="34.9" y2="178" stroke="#2a2a2a" stroke-width="0.55" />
<text x="23.1" y="180.35" font-size="6.9" text-anchor="end" textLength="7.8" lengthAdjust="spacingAndGlyphs">10</text>
<text x="29.7" y="177.4" font-size="4.5" text-anchor="end" textLength="6" lengthAdjust="spacingAndGlyphs">&#8722;2</text>
<line x1="32.7" y1="201" x2="34.9" y2="201" stroke="#2a2a2a" stroke-width="0.55" />
<text x="23.1" y="203.35" font-size="6.9" text-anchor="end" textLength="7.8" lengthAdjust="spacingAndGlyphs">10</text>
<text x="29.7" y="200.4" font-size="4.5" text-anchor="end" textLength="6" lengthAdjust="spacingAndGlyphs">&#8722;3</text>
<line x1="32.7" y1="224" x2="34.9" y2="224" stroke="#2a2a2a" stroke-width="0.55" />
<text x="23.1" y="226.35" font-size="6.9" text-anchor="end" textLength="7.8" lengthAdjust="spacingAndGlyphs">10</text>
<text x="29.7" y="223.4" font-size="4.5" text-anchor="end" textLength="6" lengthAdjust="spacingAndGlyphs">&#8722;4</text>
<line x1="32.7" y1="247" x2="34.9" y2="247" stroke="#2a2a2a" stroke-width="0.55" />
<text x="23.1" y="249.35" font-size="6.9" text-anchor="end" textLength="7.8" lengthAdjust="spacingAndGlyphs">10</text>
<text x="29.7" y="246.4" font-size="4.5" text-anchor="end" textLength="6" lengthAdjust="spacingAndGlyphs">&#8722;5</text>
<text x="85.35" y="265.5" font-size="6.9" text-anchor="middle" textLength="54" lengthAdjust="spacingAndGlyphs">number of qubits</text>
<clipPath id="cA4"><rect x="171.1" y="154" width="100.9" height="93.6"/></clipPath>
<g clip-path="url(#cA4)">
<polyline points="175.69,158.5 194.03,165.8 212.38,178.8 230.72,193 249.07,209.5 267.41,225.7" fill="none" stroke="#1f77b4" stroke-width="1.15" stroke-dasharray="1.0 1.55" stroke-linejoin="round"/>
<circle cx="175.69" cy="158.5" r="1.45" fill="#1f77b4"/>
<circle cx="194.03" cy="165.8" r="1.45" fill="#1f77b4"/>
<circle cx="212.38" cy="178.8" r="1.45" fill="#1f77b4"/>
<circle cx="230.72" cy="193" r="1.45" fill="#1f77b4"/>
<circle cx="249.07" cy="209.5" r="1.45" fill="#1f77b4"/>
<circle cx="267.41" cy="225.7" r="1.45" fill="#1f77b4"/>
<polyline points="175.69,206.6 194.03,181.5 212.38,178.5 230.72,177.8 249.07,170.5 267.41,168.3" fill="none" stroke="#1f77b4" stroke-width="1.15" stroke-linejoin="round"/>
<circle cx="175.69" cy="206.6" r="1.45" fill="#1f77b4"/>
<circle cx="194.03" cy="181.5" r="1.45" fill="#1f77b4"/>
<circle cx="212.38" cy="178.5" r="1.45" fill="#1f77b4"/>
<circle cx="230.72" cy="177.8" r="1.45" fill="#1f77b4"/>
<circle cx="249.07" cy="170.5" r="1.45" fill="#1f77b4"/>
<circle cx="267.41" cy="168.3" r="1.45" fill="#1f77b4"/>
<polyline points="175.69,158.5 194.03,167 212.38,181 230.72,197 249.07,214.4 267.41,232.4" fill="none" stroke="#ff7f0e" stroke-width="1.15" stroke-dasharray="1.0 1.55" stroke-linejoin="round"/>
<circle cx="175.69" cy="158.5" r="1.45" fill="#ff7f0e"/>
<circle cx="194.03" cy="167" r="1.45" fill="#ff7f0e"/>
<circle cx="212.38" cy="181" r="1.45" fill="#ff7f0e"/>
<circle cx="230.72" cy="197" r="1.45" fill="#ff7f0e"/>
<circle cx="249.07" cy="214.4" r="1.45" fill="#ff7f0e"/>
<circle cx="267.41" cy="232.4" r="1.45" fill="#ff7f0e"/>
<polyline points="175.69,190.7 194.03,181.5 212.38,179.5 230.72,176.5 249.07,172.5 267.41,169.2" fill="none" stroke="#ff7f0e" stroke-width="1.15" stroke-linejoin="round"/>
<circle cx="175.69" cy="190.7" r="1.45" fill="#ff7f0e"/>
<circle cx="194.03" cy="181.5" r="1.45" fill="#ff7f0e"/>
<circle cx="212.38" cy="179.5" r="1.45" fill="#ff7f0e"/>
<circle cx="230.72" cy="176.5" r="1.45" fill="#ff7f0e"/>
<circle cx="249.07" cy="172.5" r="1.45" fill="#ff7f0e"/>
<circle cx="267.41" cy="169.2" r="1.45" fill="#ff7f0e"/>
<polyline points="175.69,158.5 194.03,166.8 212.38,182.8 230.72,200.8 249.07,220.9 267.41,238.8" fill="none" stroke="#2ca02c" stroke-width="1.15" stroke-dasharray="1.0 1.55" stroke-linejoin="round"/>
<circle cx="175.69" cy="158.5" r="1.45" fill="#2ca02c"/>
<circle cx="194.03" cy="166.8" r="1.45" fill="#2ca02c"/>
<circle cx="212.38" cy="182.8" r="1.45" fill="#2ca02c"/>
<circle cx="230.72" cy="200.8" r="1.45" fill="#2ca02c"/>
<circle cx="249.07" cy="220.9" r="1.45" fill="#2ca02c"/>
<circle cx="267.41" cy="238.8" r="1.45" fill="#2ca02c"/>
<polyline points="175.69,177.6 194.03,176 212.38,174.5 230.72,173 249.07,171.8 267.41,172" fill="none" stroke="#2ca02c" stroke-width="1.15" stroke-linejoin="round"/>
<circle cx="175.69" cy="177.6" r="1.45" fill="#2ca02c"/>
<circle cx="194.03" cy="176" r="1.45" fill="#2ca02c"/>
<circle cx="212.38" cy="174.5" r="1.45" fill="#2ca02c"/>
<circle cx="230.72" cy="173" r="1.45" fill="#2ca02c"/>
<circle cx="249.07" cy="171.8" r="1.45" fill="#2ca02c"/>
<circle cx="267.41" cy="172" r="1.45" fill="#2ca02c"/>
<polyline points="175.69,158.5 194.03,169 212.38,185 230.72,203.5 249.07,223.4 267.41,243" fill="none" stroke="#d62728" stroke-width="1.15" stroke-dasharray="1.0 1.55" stroke-linejoin="round"/>
<circle cx="175.69" cy="158.5" r="1.45" fill="#d62728"/>
<circle cx="194.03" cy="169" r="1.45" fill="#d62728"/>
<circle cx="212.38" cy="185" r="1.45" fill="#d62728"/>
<circle cx="230.72" cy="203.5" r="1.45" fill="#d62728"/>
<circle cx="249.07" cy="223.4" r="1.45" fill="#d62728"/>
<circle cx="267.41" cy="243" r="1.45" fill="#d62728"/>
<polyline points="175.69,180.8 194.03,176.4 212.38,176.8 230.72,175.5 249.07,174.7 267.41,177.2" fill="none" stroke="#d62728" stroke-width="1.15" stroke-linejoin="round"/>
<circle cx="175.69" cy="180.8" r="1.45" fill="#d62728"/>
<circle cx="194.03" cy="176.4" r="1.45" fill="#d62728"/>
<circle cx="212.38" cy="176.8" r="1.45" fill="#d62728"/>
<circle cx="230.72" cy="175.5" r="1.45" fill="#d62728"/>
<circle cx="249.07" cy="174.7" r="1.45" fill="#d62728"/>
<circle cx="267.41" cy="177.2" r="1.45" fill="#d62728"/>
</g>
<rect x="171.1" y="154" width="100.9" height="93.6" fill="none" stroke="#2a2a2a" stroke-width="0.85"/>
<line x1="175.69" y1="247.6" x2="175.69" y2="249.8" stroke="#2a2a2a" stroke-width="0.55" />
<text x="175.69" y="257.3" font-size="6.9" text-anchor="middle" textLength="4.07" lengthAdjust="spacingAndGlyphs">2</text>
<line x1="194.03" y1="247.6" x2="194.03" y2="249.8" stroke="#2a2a2a" stroke-width="0.55" />
<text x="194.03" y="257.3" font-size="6.9" text-anchor="middle" textLength="4.07" lengthAdjust="spacingAndGlyphs">4</text>
<line x1="212.38" y1="247.6" x2="212.38" y2="249.8" stroke="#2a2a2a" stroke-width="0.55" />
<text x="212.38" y="257.3" font-size="6.9" text-anchor="middle" textLength="4.07" lengthAdjust="spacingAndGlyphs">6</text>
<line x1="230.72" y1="247.6" x2="230.72" y2="249.8" stroke="#2a2a2a" stroke-width="0.55" />
<text x="230.72" y="257.3" font-size="6.9" text-anchor="middle" textLength="4.07" lengthAdjust="spacingAndGlyphs">8</text>
<line x1="249.07" y1="247.6" x2="249.07" y2="249.8" stroke="#2a2a2a" stroke-width="0.55" />
<text x="249.07" y="257.3" font-size="6.9" text-anchor="middle" textLength="8.14" lengthAdjust="spacingAndGlyphs">10</text>
<line x1="267.41" y1="247.6" x2="267.41" y2="249.8" stroke="#2a2a2a" stroke-width="0.55" />
<text x="267.41" y="257.3" font-size="6.9" text-anchor="middle" textLength="8.14" lengthAdjust="spacingAndGlyphs">12</text>
<line x1="169.8" y1="246.63" x2="171.1" y2="246.63" stroke="#2a2a2a" stroke-width="0.4" />
<line x1="169.8" y1="244.09" x2="171.1" y2="244.09" stroke="#2a2a2a" stroke-width="0.4" />
<line x1="169.8" y1="242.01" x2="171.1" y2="242.01" stroke="#2a2a2a" stroke-width="0.4" />
<line x1="169.8" y1="240.26" x2="171.1" y2="240.26" stroke="#2a2a2a" stroke-width="0.4" />
<line x1="169.8" y1="238.74" x2="171.1" y2="238.74" stroke="#2a2a2a" stroke-width="0.4" />
<line x1="169.8" y1="237.4" x2="171.1" y2="237.4" stroke="#2a2a2a" stroke-width="0.4" />
<line x1="169.8" y1="228.31" x2="171.1" y2="228.31" stroke="#2a2a2a" stroke-width="0.4" />
<line x1="169.8" y1="223.7" x2="171.1" y2="223.7" stroke="#2a2a2a" stroke-width="0.4" />
<line x1="169.8" y1="220.43" x2="171.1" y2="220.43" stroke="#2a2a2a" stroke-width="0.4" />
<line x1="169.8" y1="217.89" x2="171.1" y2="217.89" stroke="#2a2a2a" stroke-width="0.4" />
<line x1="169.8" y1="215.81" x2="171.1" y2="215.81" stroke="#2a2a2a" stroke-width="0.4" />
<line x1="169.8" y1="214.06" x2="171.1" y2="214.06" stroke="#2a2a2a" stroke-width="0.4" />
<line x1="169.8" y1="212.54" x2="171.1" y2="212.54" stroke="#2a2a2a" stroke-width="0.4" />
<line x1="169.8" y1="211.2" x2="171.1" y2="211.2" stroke="#2a2a2a" stroke-width="0.4" />
<line x1="169.8" y1="202.11" x2="171.1" y2="202.11" stroke="#2a2a2a" stroke-width="0.4" />
<line x1="169.8" y1="197.5" x2="171.1" y2="197.5" stroke="#2a2a2a" stroke-width="0.4" />
<line x1="169.8" y1="194.23" x2="171.1" y2="194.23" stroke="#2a2a2a" stroke-width="0.4" />
<line x1="169.8" y1="191.69" x2="171.1" y2="191.69" stroke="#2a2a2a" stroke-width="0.4" />
<line x1="169.8" y1="189.61" x2="171.1" y2="189.61" stroke="#2a2a2a" stroke-width="0.4" />
<line x1="169.8" y1="187.86" x2="171.1" y2="187.86" stroke="#2a2a2a" stroke-width="0.4" />
<line x1="169.8" y1="186.34" x2="171.1" y2="186.34" stroke="#2a2a2a" stroke-width="0.4" />
<line x1="169.8" y1="185" x2="171.1" y2="185" stroke="#2a2a2a" stroke-width="0.4" />
<line x1="169.8" y1="175.91" x2="171.1" y2="175.91" stroke="#2a2a2a" stroke-width="0.4" />
<line x1="169.8" y1="171.3" x2="171.1" y2="171.3" stroke="#2a2a2a" stroke-width="0.4" />
<line x1="169.8" y1="168.03" x2="171.1" y2="168.03" stroke="#2a2a2a" stroke-width="0.4" />
<line x1="169.8" y1="165.49" x2="171.1" y2="165.49" stroke="#2a2a2a" stroke-width="0.4" />
<line x1="169.8" y1="163.41" x2="171.1" y2="163.41" stroke="#2a2a2a" stroke-width="0.4" />
<line x1="169.8" y1="161.66" x2="171.1" y2="161.66" stroke="#2a2a2a" stroke-width="0.4" />
<line x1="169.8" y1="160.14" x2="171.1" y2="160.14" stroke="#2a2a2a" stroke-width="0.4" />
<line x1="169.8" y1="158.8" x2="171.1" y2="158.8" stroke="#2a2a2a" stroke-width="0.4" />
<line x1="168.9" y1="157.6" x2="171.1" y2="157.6" stroke="#2a2a2a" stroke-width="0.55" />
<text x="159.3" y="159.95" font-size="6.9" text-anchor="end" textLength="7.8" lengthAdjust="spacingAndGlyphs">10</text>
<text x="165.9" y="157" font-size="4.5" text-anchor="end" textLength="6" lengthAdjust="spacingAndGlyphs">&#8722;1</text>
<line x1="168.9" y1="183.8" x2="171.1" y2="183.8" stroke="#2a2a2a" stroke-width="0.55" />
<text x="159.3" y="186.15" font-size="6.9" text-anchor="end" textLength="7.8" lengthAdjust="spacingAndGlyphs">10</text>
<text x="165.9" y="183.2" font-size="4.5" text-anchor="end" textLength="6" lengthAdjust="spacingAndGlyphs">&#8722;2</text>
<line x1="168.9" y1="210" x2="171.1" y2="210" stroke="#2a2a2a" stroke-width="0.55" />
<text x="159.3" y="212.35" font-size="6.9" text-anchor="end" textLength="7.8" lengthAdjust="spacingAndGlyphs">10</text>
<text x="165.9" y="209.4" font-size="4.5" text-anchor="end" textLength="6" lengthAdjust="spacingAndGlyphs">&#8722;3</text>
<line x1="168.9" y1="236.2" x2="171.1" y2="236.2" stroke="#2a2a2a" stroke-width="0.55" />
<text x="159.3" y="238.55" font-size="6.9" text-anchor="end" textLength="7.8" lengthAdjust="spacingAndGlyphs">10</text>
<text x="165.9" y="235.6" font-size="4.5" text-anchor="end" textLength="6" lengthAdjust="spacingAndGlyphs">&#8722;4</text>
<text x="221.55" y="265.5" font-size="6.9" text-anchor="middle" textLength="54" lengthAdjust="spacingAndGlyphs">number of qubits</text>
<clipPath id="cB1"><rect x="307.3" y="19.5" width="100.9" height="93.6"/></clipPath>
<g clip-path="url(#cB1)">
<rect x="307.3" y="107.04" width="7.64" height="1.16" fill="#1f77b4"/>
<rect x="307.3" y="102.8" width="31.63" height="1.16" fill="#1f77b4"/>
<rect x="307.3" y="98.56" width="42.9" height="1.16" fill="#1f77b4"/>
<rect x="307.3" y="94.32" width="49.81" height="1.16" fill="#1f77b4"/>
<rect x="307.3" y="90.08" width="43.27" height="1.16" fill="#1f77b4"/>
<rect x="307.3" y="85.84" width="37.81" height="1.16" fill="#1f77b4"/>
<rect x="307.3" y="81.59" width="30.18" height="1.16" fill="#1f77b4"/>
<rect x="307.3" y="77.35" width="22.54" height="1.16" fill="#1f77b4"/>
<rect x="307.3" y="73.11" width="15.63" height="1.16" fill="#1f77b4"/>
<rect x="307.3" y="68.87" width="7.64" height="1.16" fill="#1f77b4"/>
<rect x="307.3" y="64.63" width="1.09" height="1.16" fill="#1f77b4"/>
<rect x="307.3" y="60.39" width="0.36" height="1.16" fill="#1f77b4"/>
<rect x="307.3" y="56.15" width="0.36" height="1.16" fill="#1f77b4"/>
<rect x="307.3" y="43.42" width="0.36" height="1.16" fill="#1f77b4"/>
<rect x="307.3" y="26.46" width="0.36" height="1.16" fill="#1f77b4"/>
<rect x="307.3" y="105.88" width="1.09" height="1.16" fill="#ff7f0e"/>
<rect x="307.3" y="101.64" width="7.64" height="1.16" fill="#ff7f0e"/>
<rect x="307.3" y="97.4" width="55.63" height="1.16" fill="#ff7f0e"/>
<rect x="307.3" y="93.16" width="52.36" height="1.16" fill="#ff7f0e"/>
<rect x="307.3" y="88.92" width="57.45" height="1.16" fill="#ff7f0e"/>
<rect x="307.3" y="84.68" width="74.17" height="1.16" fill="#ff7f0e"/>
<rect x="307.3" y="80.43" width="23.63" height="1.16" fill="#ff7f0e"/>
<rect x="307.3" y="76.19" width="9.82" height="1.16" fill="#ff7f0e"/>
<rect x="307.3" y="71.95" width="5.09" height="1.16" fill="#ff7f0e"/>
<rect x="307.3" y="67.71" width="2.18" height="1.16" fill="#ff7f0e"/>
<rect x="307.3" y="63.47" width="0.73" height="1.16" fill="#ff7f0e"/>
<rect x="307.3" y="59.23" width="0.36" height="1.16" fill="#ff7f0e"/>
<rect x="307.3" y="50.74" width="0.36" height="1.16" fill="#ff7f0e"/>
<rect x="307.3" y="25.3" width="0.36" height="1.16" fill="#ff7f0e"/>
<rect x="307.3" y="100.48" width="0.73" height="1.16" fill="#2ca02c"/>
<rect x="307.3" y="96.24" width="12.73" height="1.16" fill="#2ca02c"/>
<rect x="307.3" y="92" width="95.99" height="1.16" fill="#2ca02c"/>
<rect x="307.3" y="87.76" width="94.9" height="1.16" fill="#2ca02c"/>
<rect x="307.3" y="83.52" width="74.9" height="1.16" fill="#2ca02c"/>
<rect x="307.3" y="79.28" width="4.36" height="1.16" fill="#2ca02c"/>
<rect x="307.3" y="75.03" width="2.91" height="1.16" fill="#2ca02c"/>
<rect x="307.3" y="70.79" width="1.09" height="1.16" fill="#2ca02c"/>
<rect x="307.3" y="66.55" width="1.09" height="1.16" fill="#2ca02c"/>
<rect x="307.3" y="62.31" width="0.36" height="1.16" fill="#2ca02c"/>
<rect x="307.3" y="58.07" width="0.36" height="1.16" fill="#2ca02c"/>
<rect x="307.3" y="45.34" width="0.36" height="1.16" fill="#2ca02c"/>
<rect x="307.3" y="24.14" width="0.36" height="1.16" fill="#2ca02c"/>
<line x1="307.3" y1="87.22" x2="408.2" y2="87.22" stroke="#ff1a1a" stroke-width="1.25" stroke-dasharray="3.5 1.55"/>
<line x1="307.3" y1="91.88" x2="408.2" y2="91.88" stroke="#ff1a1a" stroke-width="1.25" stroke-dasharray="3.5 1.55"/>
</g>
<rect x="307.3" y="19.5" width="100.9" height="93.6" fill="none" stroke="#2a2a2a" stroke-width="0.85"/>
<line x1="307.3" y1="113.1" x2="307.3" y2="115.3" stroke="#2a2a2a" stroke-width="0.55" />
<text x="307.3" y="122.8" font-size="6.9" text-anchor="middle" textLength="4.07" lengthAdjust="spacingAndGlyphs">0</text>
<line x1="343.66" y1="113.1" x2="343.66" y2="115.3" stroke="#2a2a2a" stroke-width="0.55" />
<text x="343.66" y="122.8" font-size="6.9" text-anchor="middle" textLength="12.21" lengthAdjust="spacingAndGlyphs">100</text>
<line x1="380.02" y1="113.1" x2="380.02" y2="115.3" stroke="#2a2a2a" stroke-width="0.55" />
<text x="380.02" y="122.8" font-size="6.9" text-anchor="middle" textLength="12.21" lengthAdjust="spacingAndGlyphs">200</text>
<line x1="305.1" y1="104.36" x2="307.3" y2="104.36" stroke="#2a2a2a" stroke-width="0.55" />
<text x="302.8" y="106.71" font-size="6.9" text-anchor="end" textLength="13.5" lengthAdjust="spacingAndGlyphs">&#8722;20</text>
<line x1="305.1" y1="89.55" x2="307.3" y2="89.55" stroke="#2a2a2a" stroke-width="0.55" />
<text x="302.8" y="91.9" font-size="6.9" text-anchor="end" textLength="4.07" lengthAdjust="spacingAndGlyphs">0</text>
<line x1="305.1" y1="74.74" x2="307.3" y2="74.74" stroke="#2a2a2a" stroke-width="0.55" />
<text x="302.8" y="77.09" font-size="6.9" text-anchor="end" textLength="8.14" lengthAdjust="spacingAndGlyphs">20</text>
<line x1="305.1" y1="59.93" x2="307.3" y2="59.93" stroke="#2a2a2a" stroke-width="0.55" />
<text x="302.8" y="62.28" font-size="6.9" text-anchor="end" textLength="8.14" lengthAdjust="spacingAndGlyphs">40</text>
<line x1="305.1" y1="45.11" x2="307.3" y2="45.11" stroke="#2a2a2a" stroke-width="0.55" />
<text x="302.8" y="47.46" font-size="6.9" text-anchor="end" textLength="8.14" lengthAdjust="spacingAndGlyphs">60</text>
<line x1="305.1" y1="30.3" x2="307.3" y2="30.3" stroke="#2a2a2a" stroke-width="0.55" />
<text x="302.8" y="32.65" font-size="6.9" text-anchor="end" textLength="8.14" lengthAdjust="spacingAndGlyphs">80</text>
<text x="285" y="66.3" font-size="6.9" text-anchor="middle" textLength="27" lengthAdjust="spacingAndGlyphs" transform="rotate(-90 285 66.3)">PC value</text>
<text x="357.75" y="131" font-size="6.9" text-anchor="middle" textLength="31.5" lengthAdjust="spacingAndGlyphs">frequency</text>
<clipPath id="cB2"><rect x="443.4" y="19.5" width="100.9" height="93.6"/></clipPath>
<g clip-path="url(#cB2)">
<rect x="443.4" y="107.52" width="94.17" height="1.17" fill="#1f77b4"/>
<rect x="443.4" y="103.25" width="83.31" height="1.17" fill="#1f77b4"/>
<rect x="443.4" y="98.98" width="70.63" height="1.17" fill="#1f77b4"/>
<rect x="443.4" y="94.71" width="68.82" height="1.17" fill="#1f77b4"/>
<rect x="443.4" y="90.43" width="67.01" height="1.17" fill="#1f77b4"/>
<rect x="443.4" y="86.16" width="72.44" height="1.17" fill="#1f77b4"/>
<rect x="443.4" y="81.89" width="95.98" height="1.17" fill="#1f77b4"/>
<rect x="443.4" y="77.62" width="70.63" height="1.17" fill="#1f77b4"/>
<rect x="443.4" y="73.34" width="70.63" height="1.17" fill="#1f77b4"/>
<rect x="443.4" y="69.07" width="85.12" height="1.17" fill="#1f77b4"/>
<rect x="443.4" y="64.8" width="90.55" height="1.17" fill="#1f77b4"/>
<rect x="443.4" y="60.53" width="63.38" height="1.17" fill="#1f77b4"/>
<rect x="443.4" y="56.25" width="57.95" height="1.17" fill="#1f77b4"/>
<rect x="443.4" y="51.98" width="74.25" height="1.17" fill="#1f77b4"/>
<rect x="443.4" y="47.71" width="56.14" height="1.17" fill="#1f77b4"/>
<rect x="443.4" y="43.43" width="67.01" height="1.17" fill="#1f77b4"/>
<rect x="443.4" y="39.16" width="67.01" height="1.17" fill="#1f77b4"/>
<rect x="443.4" y="34.89" width="79.68" height="1.17" fill="#1f77b4"/>
<rect x="443.4" y="30.62" width="48.9" height="1.17" fill="#1f77b4"/>
<rect x="443.4" y="26.34" width="65.2" height="1.17" fill="#1f77b4"/>
<rect x="443.4" y="106.36" width="68.82" height="1.17" fill="#ff7f0e"/>
<rect x="443.4" y="102.08" width="83.31" height="1.17" fill="#ff7f0e"/>
<rect x="443.4" y="97.81" width="76.06" height="1.17" fill="#ff7f0e"/>
<rect x="443.4" y="93.54" width="74.25" height="1.17" fill="#ff7f0e"/>
<rect x="443.4" y="89.27" width="86.93" height="1.17" fill="#ff7f0e"/>
<rect x="443.4" y="84.99" width="47.09" height="1.17" fill="#ff7f0e"/>
<rect x="443.4" y="80.72" width="70.63" height="1.17" fill="#ff7f0e"/>
<rect x="443.4" y="76.45" width="59.76" height="1.17" fill="#ff7f0e"/>
<rect x="443.4" y="72.17" width="70.63" height="1.17" fill="#ff7f0e"/>
<rect x="443.4" y="67.9" width="81.5" height="1.17" fill="#ff7f0e"/>
<rect x="443.4" y="63.63" width="83.31" height="1.17" fill="#ff7f0e"/>
<rect x="443.4" y="59.36" width="92.36" height="1.17" fill="#ff7f0e"/>
<rect x="443.4" y="55.08" width="54.33" height="1.17" fill="#ff7f0e"/>
<rect x="443.4" y="50.81" width="68.82" height="1.17" fill="#ff7f0e"/>
<rect x="443.4" y="46.54" width="67.01" height="1.17" fill="#ff7f0e"/>
<rect x="443.4" y="42.27" width="70.63" height="1.17" fill="#ff7f0e"/>
<rect x="443.4" y="37.99" width="70.63" height="1.17" fill="#ff7f0e"/>
<rect x="443.4" y="33.72" width="59.76" height="1.17" fill="#ff7f0e"/>
<rect x="443.4" y="29.45" width="77.87" height="1.17" fill="#ff7f0e"/>
<rect x="443.4" y="25.18" width="85.12" height="1.17" fill="#ff7f0e"/>
<rect x="443.4" y="105.19" width="81.5" height="1.17" fill="#2ca02c"/>
<rect x="443.4" y="100.92" width="63.38" height="1.17" fill="#2ca02c"/>
<rect x="443.4" y="96.64" width="61.57" height="1.17" fill="#2ca02c"/>
<rect x="443.4" y="92.37" width="85.12" height="1.17" fill="#2ca02c"/>
<rect x="443.4" y="88.1" width="61.57" height="1.17" fill="#2ca02c"/>
<rect x="443.4" y="83.82" width="67.01" height="1.17" fill="#2ca02c"/>
<rect x="443.4" y="79.55" width="85.12" height="1.17" fill="#2ca02c"/>
<rect x="443.4" y="75.28" width="63.38" height="1.17" fill="#2ca02c"/>
<rect x="443.4" y="71.01" width="72.44" height="1.17" fill="#2ca02c"/>
<rect x="443.4" y="66.73" width="72.44" height="1.17" fill="#2ca02c"/>
<rect x="443.4" y="62.46" width="65.2" height="1.17" fill="#2ca02c"/>
<rect x="443.4" y="58.19" width="70.63" height="1.17" fill="#2ca02c"/>
<rect x="443.4" y="53.92" width="86.93" height="1.17" fill="#2ca02c"/>
<rect x="443.4" y="49.64" width="76.06" height="1.17" fill="#2ca02c"/>
<rect x="443.4" y="45.37" width="63.38" height="1.17" fill="#2ca02c"/>
<rect x="443.4" y="41.1" width="72.44" height="1.17" fill="#2ca02c"/>
<rect x="443.4" y="36.83" width="83.31" height="1.17" fill="#2ca02c"/>
<rect x="443.4" y="32.55" width="79.68" height="1.17" fill="#2ca02c"/>
<rect x="443.4" y="28.28" width="72.44" height="1.17" fill="#2ca02c"/>
<rect x="443.4" y="24.01" width="65.2" height="1.17" fill="#2ca02c"/>
<line x1="443.4" y1="23.62" x2="544.3" y2="23.62" stroke="#ff1a1a" stroke-width="1.25" stroke-dasharray="3.5 1.55"/>
<line x1="443.4" y1="109.08" x2="544.3" y2="109.08" stroke="#ff1a1a" stroke-width="1.25" stroke-dasharray="3.5 1.55"/>
</g>
<rect x="443.4" y="19.5" width="100.9" height="93.6" fill="none" stroke="#2a2a2a" stroke-width="0.85"/>
<line x1="443.4" y1="113.1" x2="443.4" y2="115.3" stroke="#2a2a2a" stroke-width="0.55" />
<text x="443.4" y="122.8" font-size="6.9" text-anchor="middle" textLength="4.07" lengthAdjust="spacingAndGlyphs">0</text>
<line x1="479.62" y1="113.1" x2="479.62" y2="115.3" stroke="#2a2a2a" stroke-width="0.55" />
<text x="479.62" y="122.8" font-size="6.9" text-anchor="middle" textLength="8.14" lengthAdjust="spacingAndGlyphs">20</text>
<line x1="515.84" y1="113.1" x2="515.84" y2="115.3" stroke="#2a2a2a" stroke-width="0.55" />
<text x="515.84" y="122.8" font-size="6.9" text-anchor="middle" textLength="8.14" lengthAdjust="spacingAndGlyphs">40</text>
<line x1="441.2" y1="107.15" x2="443.4" y2="107.15" stroke="#2a2a2a" stroke-width="0.55" />
<text x="438.9" y="109.5" font-size="6.9" text-anchor="end" textLength="9.43" lengthAdjust="spacingAndGlyphs">&#8722;3</text>
<line x1="441.2" y1="93.55" x2="443.4" y2="93.55" stroke="#2a2a2a" stroke-width="0.55" />
<text x="438.9" y="95.9" font-size="6.9" text-anchor="end" textLength="9.43" lengthAdjust="spacingAndGlyphs">&#8722;2</text>
<line x1="441.2" y1="79.95" x2="443.4" y2="79.95" stroke="#2a2a2a" stroke-width="0.55" />
<text x="438.9" y="82.3" font-size="6.9" text-anchor="end" textLength="9.43" lengthAdjust="spacingAndGlyphs">&#8722;1</text>
<line x1="441.2" y1="66.35" x2="443.4" y2="66.35" stroke="#2a2a2a" stroke-width="0.55" />
<text x="438.9" y="68.7" font-size="6.9" text-anchor="end" textLength="4.07" lengthAdjust="spacingAndGlyphs">0</text>
<line x1="441.2" y1="52.75" x2="443.4" y2="52.75" stroke="#2a2a2a" stroke-width="0.55" />
<text x="438.9" y="55.1" font-size="6.9" text-anchor="end" textLength="4.07" lengthAdjust="spacingAndGlyphs">1</text>
<line x1="441.2" y1="39.15" x2="443.4" y2="39.15" stroke="#2a2a2a" stroke-width="0.55" />
<text x="438.9" y="41.5" font-size="6.9" text-anchor="end" textLength="4.07" lengthAdjust="spacingAndGlyphs">2</text>
<line x1="441.2" y1="25.55" x2="443.4" y2="25.55" stroke="#2a2a2a" stroke-width="0.55" />
<text x="438.9" y="27.9" font-size="6.9" text-anchor="end" textLength="4.07" lengthAdjust="spacingAndGlyphs">3</text>
<text x="425.9" y="66.3" font-size="6.9" text-anchor="middle" textLength="27" lengthAdjust="spacingAndGlyphs" transform="rotate(-90 425.9 66.3)">PC value</text>
<text x="493.85" y="131" font-size="6.9" text-anchor="middle" textLength="31.5" lengthAdjust="spacingAndGlyphs">frequency</text>
<clipPath id="cB3"><rect x="307.3" y="154" width="100.9" height="93.6"/></clipPath>
<g clip-path="url(#cB3)">
<rect x="307.3" y="237.74" width="7.64" height="1.11" fill="#1f77b4"/>
<rect x="307.3" y="233.68" width="31.63" height="1.11" fill="#1f77b4"/>
<rect x="307.3" y="229.62" width="42.9" height="1.11" fill="#1f77b4"/>
<rect x="307.3" y="225.56" width="49.81" height="1.11" fill="#1f77b4"/>
<rect x="307.3" y="221.5" width="43.27" height="1.11" fill="#1f77b4"/>
<rect x="307.3" y="217.44" width="37.81" height="1.11" fill="#1f77b4"/>
<rect x="307.3" y="213.38" width="30.18" height="1.11" fill="#1f77b4"/>
<rect x="307.3" y="209.32" width="22.54" height="1.11" fill="#1f77b4"/>
<rect x="307.3" y="205.26" width="15.63" height="1.11" fill="#1f77b4"/>
<rect x="307.3" y="201.21" width="7.64" height="1.11" fill="#1f77b4"/>
<rect x="307.3" y="197.15" width="1.09" height="1.11" fill="#1f77b4"/>
<rect x="307.3" y="193.09" width="0.36" height="1.11" fill="#1f77b4"/>
<rect x="307.3" y="189.03" width="0.36" height="1.11" fill="#1f77b4"/>
<rect x="307.3" y="176.85" width="0.36" height="1.11" fill="#1f77b4"/>
<rect x="307.3" y="160.61" width="0.36" height="1.11" fill="#1f77b4"/>
<rect x="307.3" y="236.63" width="1.09" height="1.11" fill="#ff7f0e"/>
<rect x="307.3" y="232.57" width="7.64" height="1.11" fill="#ff7f0e"/>
<rect x="307.3" y="228.51" width="55.63" height="1.11" fill="#ff7f0e"/>
<rect x="307.3" y="224.45" width="52.36" height="1.11" fill="#ff7f0e"/>
<rect x="307.3" y="220.39" width="57.45" height="1.11" fill="#ff7f0e"/>
<rect x="307.3" y="216.33" width="74.17" height="1.11" fill="#ff7f0e"/>
<rect x="307.3" y="212.27" width="23.63" height="1.11" fill="#ff7f0e"/>
<rect x="307.3" y="208.21" width="9.82" height="1.11" fill="#ff7f0e"/>
<rect x="307.3" y="204.16" width="5.09" height="1.11" fill="#ff7f0e"/>
<rect x="307.3" y="200.1" width="2.18" height="1.11" fill="#ff7f0e"/>
<rect x="307.3" y="196.04" width="0.73" height="1.11" fill="#ff7f0e"/>
<rect x="307.3" y="191.98" width="0.36" height="1.11" fill="#ff7f0e"/>
<rect x="307.3" y="183.86" width="0.36" height="1.11" fill="#ff7f0e"/>
<rect x="307.3" y="159.5" width="0.36" height="1.11" fill="#ff7f0e"/>
<rect x="307.3" y="231.46" width="0.73" height="1.11" fill="#2ca02c"/>
<rect x="307.3" y="227.4" width="12.73" height="1.11" fill="#2ca02c"/>
<rect x="307.3" y="223.34" width="95.99" height="1.11" fill="#2ca02c"/>
<rect x="307.3" y="219.28" width="94.9" height="1.11" fill="#2ca02c"/>
<rect x="307.3" y="215.22" width="74.9" height="1.11" fill="#2ca02c"/>
<rect x="307.3" y="211.16" width="4.36" height="1.11" fill="#2ca02c"/>
<rect x="307.3" y="207.1" width="2.91" height="1.11" fill="#2ca02c"/>
<rect x="307.3" y="203.05" width="1.09" height="1.11" fill="#2ca02c"/>
<rect x="307.3" y="198.99" width="1.09" height="1.11" fill="#2ca02c"/>
<rect x="307.3" y="194.93" width="0.36" height="1.11" fill="#2ca02c"/>
<rect x="307.3" y="190.87" width="0.36" height="1.11" fill="#2ca02c"/>
<rect x="307.3" y="178.69" width="0.36" height="1.11" fill="#2ca02c"/>
<rect x="307.3" y="158.39" width="0.36" height="1.11" fill="#2ca02c"/>
<line x1="307.3" y1="199.01" x2="408.2" y2="199.01" stroke="#ff1a1a" stroke-width="1.25" stroke-dasharray="3.5 1.55"/>
<line x1="307.3" y1="242.99" x2="408.2" y2="242.99" stroke="#ff1a1a" stroke-width="1.25" stroke-dasharray="3.5 1.55"/>
</g>
<rect x="307.3" y="154" width="100.9" height="93.6" fill="none" stroke="#2a2a2a" stroke-width="0.85"/>
<line x1="307.3" y1="247.6" x2="307.3" y2="249.8" stroke="#2a2a2a" stroke-width="0.55" />
<text x="307.3" y="257.3" font-size="6.9" text-anchor="middle" textLength="4.07" lengthAdjust="spacingAndGlyphs">0</text>
<line x1="343.66" y1="247.6" x2="343.66" y2="249.8" stroke="#2a2a2a" stroke-width="0.55" />
<text x="343.66" y="257.3" font-size="6.9" text-anchor="middle" textLength="12.21" lengthAdjust="spacingAndGlyphs">100</text>
<line x1="380.02" y1="247.6" x2="380.02" y2="249.8" stroke="#2a2a2a" stroke-width="0.55" />
<text x="380.02" y="257.3" font-size="6.9" text-anchor="middle" textLength="12.21" lengthAdjust="spacingAndGlyphs">200</text>
<line x1="305.1" y1="235" x2="307.3" y2="235" stroke="#2a2a2a" stroke-width="0.55" />
<text x="302.8" y="237.35" font-size="6.9" text-anchor="end" textLength="9.43" lengthAdjust="spacingAndGlyphs">&#8722;2</text>
<line x1="305.1" y1="221" x2="307.3" y2="221" stroke="#2a2a2a" stroke-width="0.55" />
<text x="302.8" y="223.35" font-size="6.9" text-anchor="end" textLength="4.07" lengthAdjust="spacingAndGlyphs">0</text>
<line x1="305.1" y1="207" x2="307.3" y2="207" stroke="#2a2a2a" stroke-width="0.55" />
<text x="302.8" y="209.35" font-size="6.9" text-anchor="end" textLength="4.07" lengthAdjust="spacingAndGlyphs">2</text>
<line x1="305.1" y1="193" x2="307.3" y2="193" stroke="#2a2a2a" stroke-width="0.55" />
<text x="302.8" y="195.35" font-size="6.9" text-anchor="end" textLength="4.07" lengthAdjust="spacingAndGlyphs">4</text>
<line x1="305.1" y1="179" x2="307.3" y2="179" stroke="#2a2a2a" stroke-width="0.55" />
<text x="302.8" y="181.35" font-size="6.9" text-anchor="end" textLength="4.07" lengthAdjust="spacingAndGlyphs">6</text>
<line x1="305.1" y1="165" x2="307.3" y2="165" stroke="#2a2a2a" stroke-width="0.55" />
<text x="302.8" y="167.35" font-size="6.9" text-anchor="end" textLength="4.07" lengthAdjust="spacingAndGlyphs">8</text>
<text x="289.8" y="200.8" font-size="6.9" text-anchor="middle" textLength="27" lengthAdjust="spacingAndGlyphs" transform="rotate(-90 289.8 200.8)">PC value</text>
<text x="357.75" y="265.5" font-size="6.9" text-anchor="middle" textLength="31.5" lengthAdjust="spacingAndGlyphs">frequency</text>
<clipPath id="cB4"><rect x="443.4" y="154" width="100.9" height="93.6"/></clipPath>
<g clip-path="url(#cB4)">
<rect x="443.4" y="241.92" width="1.45" height="1.17" fill="#1f77b4"/>
<rect x="443.4" y="237.65" width="5.45" height="1.17" fill="#1f77b4"/>
<rect x="443.4" y="233.38" width="11.27" height="1.17" fill="#1f77b4"/>
<rect x="443.4" y="229.11" width="20.73" height="1.17" fill="#1f77b4"/>
<rect x="443.4" y="224.83" width="24.72" height="1.17" fill="#1f77b4"/>
<rect x="443.4" y="220.56" width="20.36" height="1.17" fill="#1f77b4"/>
<rect x="443.4" y="216.29" width="28.36" height="1.17" fill="#1f77b4"/>
<rect x="443.4" y="212.02" width="22.91" height="1.17" fill="#1f77b4"/>
<rect x="443.4" y="207.74" width="22.91" height="1.17" fill="#1f77b4"/>
<rect x="443.4" y="203.47" width="19.63" height="1.17" fill="#1f77b4"/>
<rect x="443.4" y="199.2" width="20.73" height="1.17" fill="#1f77b4"/>
<rect x="443.4" y="194.93" width="18.54" height="1.17" fill="#1f77b4"/>
<rect x="443.4" y="190.65" width="16.36" height="1.17" fill="#1f77b4"/>
<rect x="443.4" y="186.38" width="12.73" height="1.17" fill="#1f77b4"/>
<rect x="443.4" y="182.11" width="10.54" height="1.17" fill="#1f77b4"/>
<rect x="443.4" y="177.83" width="11.27" height="1.17" fill="#1f77b4"/>
<rect x="443.4" y="173.56" width="8.73" height="1.17" fill="#1f77b4"/>
<rect x="443.4" y="169.29" width="7.27" height="1.17" fill="#1f77b4"/>
<rect x="443.4" y="165.02" width="4" height="1.17" fill="#1f77b4"/>
<rect x="443.4" y="160.74" width="2.55" height="1.17" fill="#1f77b4"/>
<rect x="443.4" y="240.76" width="22.54" height="1.17" fill="#ff7f0e"/>
<rect x="443.4" y="236.48" width="44.72" height="1.17" fill="#ff7f0e"/>
<rect x="443.4" y="232.21" width="42.54" height="1.17" fill="#ff7f0e"/>
<rect x="443.4" y="227.94" width="36.72" height="1.17" fill="#ff7f0e"/>
<rect x="443.4" y="223.67" width="53.81" height="1.17" fill="#ff7f0e"/>
<rect x="443.4" y="219.39" width="52.72" height="1.17" fill="#ff7f0e"/>
<rect x="443.4" y="215.12" width="17.45" height="1.17" fill="#ff7f0e"/>
<rect x="443.4" y="210.85" width="11.27" height="1.17" fill="#ff7f0e"/>
<rect x="443.4" y="206.57" width="6.18" height="1.17" fill="#ff7f0e"/>
<rect x="443.4" y="202.3" width="1.82" height="1.17" fill="#ff7f0e"/>
<rect x="443.4" y="198.03" width="1.82" height="1.17" fill="#ff7f0e"/>
<rect x="443.4" y="193.76" width="1.82" height="1.17" fill="#ff7f0e"/>
<rect x="443.4" y="239.59" width="10.54" height="1.17" fill="#2ca02c"/>
<rect x="443.4" y="235.32" width="85.81" height="1.17" fill="#2ca02c"/>
<rect x="443.4" y="231.04" width="79.99" height="1.17" fill="#2ca02c"/>
<rect x="443.4" y="226.77" width="96.35" height="1.17" fill="#2ca02c"/>
<rect x="443.4" y="222.5" width="10.54" height="1.17" fill="#2ca02c"/>
<rect x="443.4" y="218.22" width="1.82" height="1.17" fill="#2ca02c"/>
<rect x="443.4" y="213.95" width="1.82" height="1.17" fill="#2ca02c"/>
<rect x="443.4" y="209.68" width="1.09" height="1.17" fill="#2ca02c"/>
<line x1="443.4" y1="158.02" x2="544.3" y2="158.02" stroke="#ff1a1a" stroke-width="1.25" stroke-dasharray="3.5 1.55"/>
<line x1="443.4" y1="243.48" x2="544.3" y2="243.48" stroke="#ff1a1a" stroke-width="1.25" stroke-dasharray="3.5 1.55"/>
</g>
<rect x="443.4" y="154" width="100.9" height="93.6" fill="none" stroke="#2a2a2a" stroke-width="0.85"/>
<line x1="443.4" y1="247.6" x2="443.4" y2="249.8" stroke="#2a2a2a" stroke-width="0.55" />
<text x="443.4" y="257.3" font-size="6.9" text-anchor="middle" textLength="4.07" lengthAdjust="spacingAndGlyphs">0</text>
<line x1="479.76" y1="247.6" x2="479.76" y2="249.8" stroke="#2a2a2a" stroke-width="0.55" />
<text x="479.76" y="257.3" font-size="6.9" text-anchor="middle" textLength="12.21" lengthAdjust="spacingAndGlyphs">100</text>
<line x1="516.12" y1="247.6" x2="516.12" y2="249.8" stroke="#2a2a2a" stroke-width="0.55" />
<text x="516.12" y="257.3" font-size="6.9" text-anchor="middle" textLength="12.21" lengthAdjust="spacingAndGlyphs">200</text>
<line x1="441.2" y1="241.55" x2="443.4" y2="241.55" stroke="#2a2a2a" stroke-width="0.55" />
<text x="438.9" y="243.9" font-size="6.9" text-anchor="end" textLength="9.43" lengthAdjust="spacingAndGlyphs">&#8722;3</text>
<line x1="441.2" y1="227.95" x2="443.4" y2="227.95" stroke="#2a2a2a" stroke-width="0.55" />
<text x="438.9" y="230.3" font-size="6.9" text-anchor="end" textLength="9.43" lengthAdjust="spacingAndGlyphs">&#8722;2</text>
<line x1="441.2" y1="214.35" x2="443.4" y2="214.35" stroke="#2a2a2a" stroke-width="0.55" />
<text x="438.9" y="216.7" font-size="6.9" text-anchor="end" textLength="9.43" lengthAdjust="spacingAndGlyphs">&#8722;1</text>
<line x1="441.2" y1="200.75" x2="443.4" y2="200.75" stroke="#2a2a2a" stroke-width="0.55" />
<text x="438.9" y="203.1" font-size="6.9" text-anchor="end" textLength="4.07" lengthAdjust="spacingAndGlyphs">0</text>
<line x1="441.2" y1="187.15" x2="443.4" y2="187.15" stroke="#2a2a2a" stroke-width="0.55" />
<text x="438.9" y="189.5" font-size="6.9" text-anchor="end" textLength="4.07" lengthAdjust="spacingAndGlyphs">1</text>
<line x1="441.2" y1="173.55" x2="443.4" y2="173.55" stroke="#2a2a2a" stroke-width="0.55" />
<text x="438.9" y="175.9" font-size="6.9" text-anchor="end" textLength="4.07" lengthAdjust="spacingAndGlyphs">2</text>
<line x1="441.2" y1="159.95" x2="443.4" y2="159.95" stroke="#2a2a2a" stroke-width="0.55" />
<text x="438.9" y="162.3" font-size="6.9" text-anchor="end" textLength="4.07" lengthAdjust="spacingAndGlyphs">3</text>
<text x="425.9" y="200.8" font-size="6.9" text-anchor="middle" textLength="27" lengthAdjust="spacingAndGlyphs" transform="rotate(-90 425.9 200.8)">PC value</text>
<text x="493.85" y="265.5" font-size="6.9" text-anchor="middle" textLength="31.5" lengthAdjust="spacingAndGlyphs">frequency</text>
<text x="11.4" y="66.3" font-size="6.9" text-anchor="middle" textLength="79.7" lengthAdjust="spacingAndGlyphs" transform="rotate(-90 11.4 66.3)">average of kernel entries</text>
<text x="147.6" y="66.3" font-size="6.9" text-anchor="middle" textLength="79.7" lengthAdjust="spacingAndGlyphs" transform="rotate(-90 147.6 66.3)">average of kernel entries</text>
<text x="11.4" y="200.8" font-size="6.9" text-anchor="middle" textLength="82" lengthAdjust="spacingAndGlyphs" transform="rotate(-90 11.4 200.8)">variance of kernel entries</text>
<text x="147.6" y="200.8" font-size="6.9" text-anchor="middle" textLength="82" lengthAdjust="spacingAndGlyphs" transform="rotate(-90 147.6 200.8)">variance of kernel entries</text>
<text x="85.3" y="15.9" font-size="7.8" font-weight="bold" text-anchor="middle" textLength="73.4" lengthAdjust="spacingAndGlyphs">RXRZ Embedding</text>
<text x="221.5" y="15.9" font-size="7.8" font-weight="bold" text-anchor="middle" textLength="61" lengthAdjust="spacingAndGlyphs">ZZ Embedding</text>
<text x="357.8" y="15.9" font-size="7.8" font-weight="bold" text-anchor="middle" textLength="10.4" lengthAdjust="spacingAndGlyphs">PC</text>
<text x="468.5" y="15.9" font-size="7.8" font-weight="bold" textLength="42.5" lengthAdjust="spacingAndGlyphs">PC (mod 2</text>
<text x="511.3" y="15.9" font-size="7.8" textLength="4.2" lengthAdjust="spacingAndGlyphs" font-style="italic">&#960;</text>
<text x="515.6" y="15.9" font-size="7.8" font-weight="bold" textLength="3" lengthAdjust="spacingAndGlyphs">)</text>
<text x="346.3" y="150" font-size="7.8" textLength="4.8" lengthAdjust="spacingAndGlyphs" font-style="italic">&#955;</text>
<text x="354" y="150" font-size="7.8" font-weight="bold" text-anchor="middle">&#183;</text>
<text x="357" y="150" font-size="7.8" font-weight="bold" textLength="11" lengthAdjust="spacingAndGlyphs">PC</text>
<text x="493.8" y="150" font-size="7.8" font-weight="bold" text-anchor="middle" textLength="54.5" lengthAdjust="spacingAndGlyphs">min-max(PC)</text>
<text x="10" y="14.3" font-size="10.6" font-weight="bold" textLength="14.2" lengthAdjust="spacingAndGlyphs">A1</text>
<text x="146" y="14.3" font-size="10.6" font-weight="bold" textLength="14.2" lengthAdjust="spacingAndGlyphs">A2</text>
<text x="282.6" y="14.3" font-size="10.6" font-weight="bold" textLength="14.2" lengthAdjust="spacingAndGlyphs">B1</text>
<text x="419" y="14.3" font-size="10.6" font-weight="bold" textLength="14.2" lengthAdjust="spacingAndGlyphs">B2</text>
<text x="10" y="148.8" font-size="10.6" font-weight="bold" textLength="14.2" lengthAdjust="spacingAndGlyphs">A3</text>
<text x="146" y="148.8" font-size="10.6" font-weight="bold" textLength="14.2" lengthAdjust="spacingAndGlyphs">A4</text>
<text x="283" y="148.8" font-size="10.6" font-weight="bold" textLength="14.2" lengthAdjust="spacingAndGlyphs">B3</text>
<text x="419" y="148.8" font-size="10.6" font-weight="bold" textLength="14.2" lengthAdjust="spacingAndGlyphs">B4</text>
<rect x="77" y="270" width="83.6" height="30" rx="1.5" ry="1.5" fill="#fff" fill-opacity="0.8" stroke="#cccccc" stroke-width="0.6"/>
<rect x="160.6" y="270" width="83.4" height="30" rx="1.5" ry="1.5" fill="#fff" fill-opacity="0.8" stroke="#cccccc" stroke-width="0.6"/>
<text x="118.5" y="277.6" font-size="6.9" text-anchor="middle" textLength="42.5" lengthAdjust="spacingAndGlyphs">unnormalized</text>
<text x="202.5" y="277.6" font-size="6.9" text-anchor="middle" textLength="27.5" lengthAdjust="spacingAndGlyphs">min-max</text>
<polyline points="79.7,284.7 92.8,284.7" fill="none" stroke="#1f77b4" stroke-width="1.15" stroke-dasharray="1.0 1.55" stroke-linejoin="round"/>
<circle cx="86.25" cy="284.7" r="1.4" fill="#1f77b4"/>
<text x="97.4" y="287.05" font-size="6.9" textLength="11.7" lengthAdjust="spacingAndGlyphs">L=2</text>
<polyline points="122.7,284.7 135.8,284.7" fill="none" stroke="#2ca02c" stroke-width="1.15" stroke-dasharray="1.0 1.55" stroke-linejoin="round"/>
<circle cx="129.25" cy="284.7" r="1.4" fill="#2ca02c"/>
<text x="141" y="287.05" font-size="6.9" textLength="11.7" lengthAdjust="spacingAndGlyphs">L=8</text>
<polyline points="79.7,293.9 92.8,293.9" fill="none" stroke="#ff7f0e" stroke-width="1.15" stroke-dasharray="1.0 1.55" stroke-linejoin="round"/>
<circle cx="86.25" cy="293.9" r="1.4" fill="#ff7f0e"/>
<text x="97.4" y="296.25" font-size="6.9" textLength="11.7" lengthAdjust="spacingAndGlyphs">L=4</text>
<polyline points="122.7,293.9 135.8,293.9" fill="none" stroke="#d62728" stroke-width="1.15" stroke-dasharray="1.0 1.55" stroke-linejoin="round"/>
<circle cx="129.25" cy="293.9" r="1.4" fill="#d62728"/>
<text x="141" y="296.25" font-size="6.9" textLength="16.6" lengthAdjust="spacingAndGlyphs">L=16</text>
<polyline points="163.2,284.7 176.3,284.7" fill="none" stroke="#1f77b4" stroke-width="1.15" stroke-linejoin="round"/>
<circle cx="169.75" cy="284.7" r="1.4" fill="#1f77b4"/>
<text x="181.4" y="287.05" font-size="6.9" textLength="11.7" lengthAdjust="spacingAndGlyphs">L=2</text>
<polyline points="206.7,284.7 219.8,284.7" fill="none" stroke="#2ca02c" stroke-width="1.15" stroke-linejoin="round"/>
<circle cx="213.25" cy="284.7" r="1.4" fill="#2ca02c"/>
<text x="225" y="287.05" font-size="6.9" textLength="11.7" lengthAdjust="spacingAndGlyphs">L=8</text>
<polyline points="163.2,293.9 176.3,293.9" fill="none" stroke="#ff7f0e" stroke-width="1.15" stroke-linejoin="round"/>
<circle cx="169.75" cy="293.9" r="1.4" fill="#ff7f0e"/>
<text x="181.4" y="296.25" font-size="6.9" textLength="11.7" lengthAdjust="spacingAndGlyphs">L=4</text>
<polyline points="206.7,293.9 219.8,293.9" fill="none" stroke="#d62728" stroke-width="1.15" stroke-linejoin="round"/>
<circle cx="213.25" cy="293.9" r="1.4" fill="#d62728"/>
<text x="225" y="296.25" font-size="6.9" textLength="16.6" lengthAdjust="spacingAndGlyphs">L=16</text>
<rect x="362.4" y="279.3" width="121.2" height="11.2" rx="1.5" ry="1.5" fill="#fff" fill-opacity="0.8" stroke="#cccccc" stroke-width="0.6"/>
<rect x="364.6" y="282.6" width="12.8" height="4.2" fill="#1f77b4"/>
<text x="382.6" y="287.3" font-size="6.9" textLength="11.9" lengthAdjust="spacingAndGlyphs">PC1</text>
<rect x="407.6" y="282.6" width="12.8" height="4.2" fill="#ff7f0e"/>
<text x="425.6" y="287.3" font-size="6.9" textLength="11.9" lengthAdjust="spacingAndGlyphs">PC2</text>
<rect x="451" y="282.6" width="12.8" height="4.2" fill="#2ca02c"/>
<text x="469" y="287.3" font-size="6.9" textLength="11.9" lengthAdjust="spacingAndGlyphs">PC3</text>
</svg></body></html>
